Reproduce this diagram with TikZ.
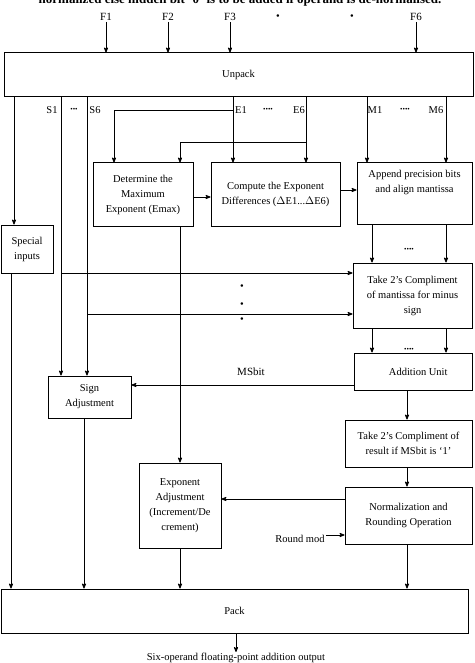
\documentclass[tikz,border=0pt]{standalone}
\usepackage{fontspec}
\setmainfont{Liberation Serif}
\usetikzlibrary{arrows}
\tikzset{
  %Define standard arrow tip
  >=stealth',
  %Define style for boxes
  blok/.style={
    rectangle,
    draw=black, line width=1pt,
    align=center,
    inner sep=2pt,
    font=\fontsize{10.5}{15}\selectfont},
  % Define arrow style
  pil/.style={
    ->,
    line width=0.8pt},
  lbl/.style={inner sep=1pt, font=\fontsize{10.5}{12}\selectfont},
  prik/.style={inner sep=0pt, font=\fontsize{7}{8}\selectfont}
}

\begin{document}
\begin{tikzpicture}[x=1pt,y=-1pt]
  \useasboundingbox (0,0) rectangle (474,663);
  \node[anchor=base,font=\fontsize{13}{14}\selectfont\bfseries] (note) at (240,4)
    {normalized else hidden bit ‘0’ is to be added if operand is de-normalised.};

  % boxes
  \node[blok, minimum width=469pt, minimum height=44pt] (unpack) at (238.5,75) {Unpack};
  \node[blok, minimum width=100pt, minimum height=63pt] (det) at (143,194.5)
    {Determine the\\Maximum\\Exponent (Emax)};
  \node[blok, minimum width=129pt, minimum height=63pt] (comp) at (275.5,194.5)
    {Compute the Exponent\\Differences ($\Delta$E1...$\Delta$E6)};
  \node[blok, minimum width=115pt, minimum height=61pt] (app) at (414.5,193.5)
    {Append precision bits\\and align mantissa\\[10pt]};
  \node[blok, minimum width=52pt, minimum height=48pt] (spec) at (27,249) {Special\\inputs};
  \node[blok, minimum width=119pt, minimum height=65pt] (take2) at (412.5,295.5)
    {Take 2’s Compliment\\of mantissa for minus\\sign};
  \node[blok, minimum width=118pt, minimum height=37pt] (add) at (413,371.5) {\quad Addition Unit};
  \node[blok, minimum width=83pt, minimum height=42pt] (sign) at (89.5,397) {Sign\\Adjustment};
  \node[blok, minimum width=82pt, minimum height=85pt] (expadj) at (180,505.5)
    {Exponent\\Adjustment\\(Increment/De\\crement)};
  \node[blok, minimum width=127pt, minimum height=47pt] (take2r) at (408.5,443.5)
    {Take 2’s Compliment of\\result if MSbit is `1’};
  \node[blok, minimum width=127pt, minimum height=57pt] (norm) at (408.5,515.5)
    {Normalization and\\Rounding Operation};
  \node[blok, minimum width=467pt, minimum height=44pt] (pack) at (234.5,611) {Pack};

  % inputs
  \foreach \nm/\xx in {F1/106,F2/168,F3/230,F6/416}{
    \node[lbl, font=\fontsize{11}{12}\selectfont] (in\nm) at (\xx,17) {\nm};
    \draw[pil] (in\nm) -- (unpack.north -| in\nm);
  }
  \node[lbl] (dotA) at (278,17) {•};
  \node[lbl] (dotB) at (352,17) {•};

  % bus positions
  \coordinate (sp) at (14,0);
  \coordinate (spo) at (11,0);
  \coordinate (s1) at (61,0);
  \coordinate (s6) at (87,0);
  \coordinate (e1) at (233,0);
  \coordinate (e6) at (306,0);
  \coordinate (m1) at (367,0);
  \coordinate (m6) at (446,0);
  \coordinate (ea) at (114,0);
  \coordinate (eb) at (180,0);
  \coordinate (ma) at (372,0);
  \coordinate (so) at (84,0);
  \coordinate (ri) at (407,0);
  \coordinate (ut) at (236,0);

  % bus labels
  \node[lbl] (lS1) at (52,110) {S1};
  \node[prik] (dS) at (74,110) {•••};
  \node[lbl] (lS6) at (95,110) {S6};
  \node[lbl] (lE1) at (241,110) {E1};
  \node[prik] (dE) at (268,110) {••••};
  \node[lbl] (lE6) at (299,110) {E6};
  \node[lbl] (lM1) at (375,110) {M1};
  \node[prik] (dM) at (405,110) {••••};
  \node[lbl] (lM6) at (436,110) {M6};

  % unpack outputs
  \draw[pil] (unpack.south -| sp) -- (spec.north -| sp);
  \draw[pil] (unpack.south -| s1) -- (sign.north -| s1);
  \draw[pil] (unpack.south -| s6) -- (sign.north -| s6);
  \draw[pil] (unpack.south -| e1) -- (comp.north -| e1);
  \draw[pil] (unpack.south -| e6) -- (comp.north -| e6);
  \draw[pil] (unpack.south -| m1) -- (app.north -| m1);
  \draw[pil] (unpack.south -| m6) -- (app.north -| m6);
  \draw[pil] (e1 |- 0,110) -| (det.north -| ea);
  \draw[pil] (e6 |- 0,142) -| (det.north -| eb);

  % sign bits to 2's compliment
  \draw[pil] (s1 |- 0,273) -- (take2.west |- 0,273);
  \draw[pil] (s6 |- 0,314) -- (take2.west |- 0,314);
  \node[lbl] (v1) at (242,287) {•};
  \node[lbl] (v2) at (242,305) {•};
  \node[lbl] (v3) at (242,320) {•};

  % mantissa path
  \draw[pil] (det.east |- 0,197) -- (comp.west |- 0,197);
  \draw[pil] (comp.east |- 0,190) -- (app.west |- 0,190);
  \draw[pil] (app.south -| ma) -- (take2.north -| ma);
  \draw[pil] (app.south -| m6) -- (take2.north -| m6);
  \node[prik] (d1) at (409,250) {••••};
  \draw[pil] (take2.south -| ma) -- (add.north -| ma);
  \draw[pil] (take2.south -| m6) -- (add.north -| m6);
  \node[prik] (d2) at (409,350) {••••};
  \draw[pil] (add.west |- 0,385) -- (sign.east |- 0,385);
  \node[lbl, font=\fontsize{11}{12}\selectfont] (msb) at (251,372) {MSbit};
  \draw[pil] (add.south -| ri) -- (take2r.north -| ri);
  \draw[pil] (take2r.south -| ri) -- (norm.north -| ri);
  \draw[pil] (norm.west |- 0,499) -- (expadj.east |- 0,499);
  \node[lbl] (rmod) at (300,539) {Round mod};
  \draw[pil] ([yshift=4pt]rmod.east) -- (norm.west |- 0,535);

  % exponent path
  \draw[pil] (det.south -| eb) -- (expadj.north -| eb);

  % into pack
  \draw[pil] (spec.south -| spo) -- (pack.north -| spo);
  \draw[pil] (sign.south -| so) -- (pack.north -| so);
  \draw[pil] (expadj.south -| eb) -- (pack.north -| eb);
  \draw[pil] (norm.south -| ri) -- (pack.north -| ri);
  \node[lbl] (out) at (236,658) {Six-operand floating-point addition output};
  \draw[pil] (pack.south -| ut) -- (out.north -| ut);
\end{tikzpicture}
\end{document}
